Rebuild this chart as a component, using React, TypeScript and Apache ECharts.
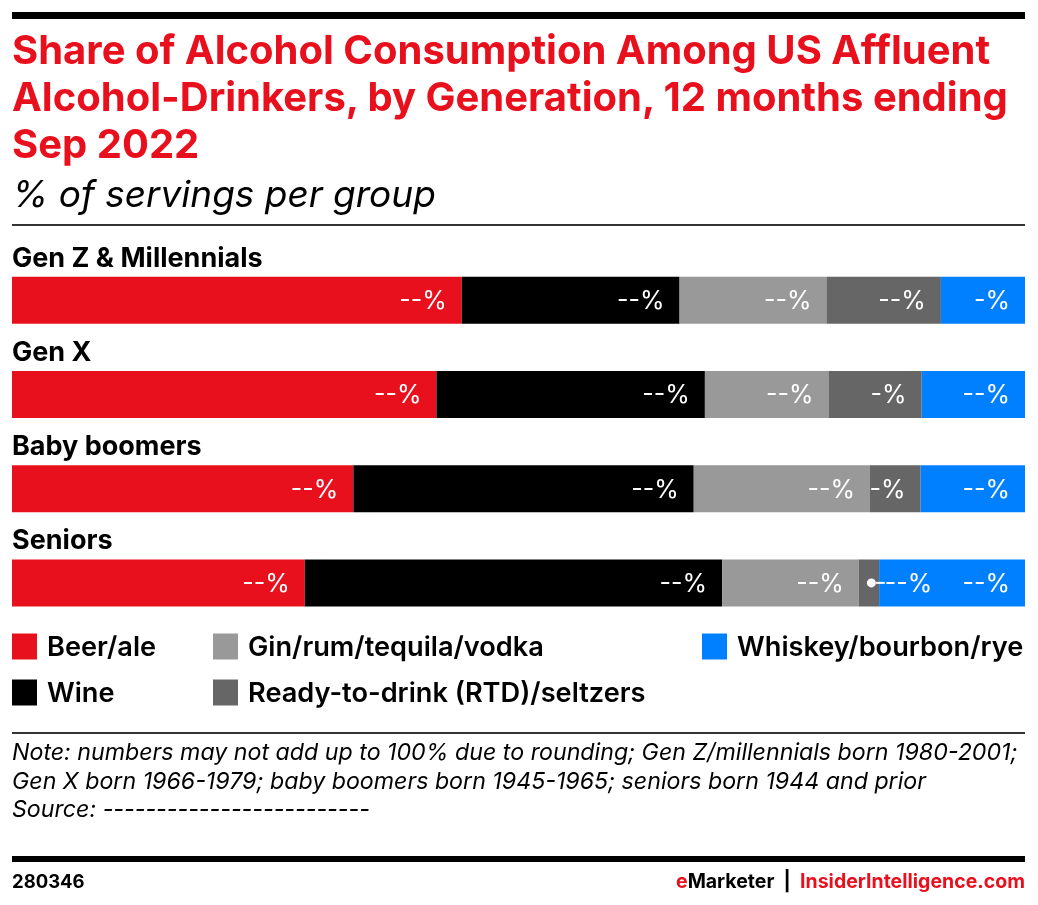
import React, { useEffect, useRef } from "react";
import * as echarts from "echarts";

const categories = ["Gen Z & Millennials", "Gen X", "Baby boomers", "Seniors"];
const seriesNames = [
  "Beer/ale",
  "Wine",
  "Gin/rum/tequila/vodka",
  "Ready-to-drink (RTD)/seltzers",
  "Whiskey/bourbon/rye",
];
const beer = [44.4, 41.9, 33.7, 28.9];
const wine = [21.5, 26.5, 33.6, 41.2];
const gin = [14.5, 12.2, 17.4, 13.5];
const rtd = [11.3, 9.2, 5.0, 2.0];
const whiskey = [8.3, 10.2, 10.3, 14.4];

const beerLabels = ["--%", "--%", "--%", "--%"];
const wineLabels = ["--%", "--%", "--%", "--%"];
const ginLabels = ["--%", "--%", "--%", "--%"];
const rtdLabels = ["--%", "-%", "-%", "--%"];
const whiskeyLabels = ["-%", "--%", "--%", "--%"];

const colors = ["#e9101e", "#000000", "#999999", "#666666", "#0080ff"];

const FONT = "Inter";

const titleText =
  "Share of Alcohol Consumption Among US Affluent\nAlcohol-Drinkers, by Generation, 12 months ending\nSep 2022";
const subtitleText = "% of servings per group";
const noteText =
  "Note: numbers may not add up to 100% due to rounding; Gen Z/millennials born 1980-2001;\nGen X born 1966-1979; baby boomers born 1945-1965; seniors born 1944 and prior\nSource: -------------------------";

export default function App() {
  const ref = useRef<HTMLDivElement>(null);

  useEffect(() => {
    if (!ref.current) return;
    const chart = echarts.init(ref.current, null, { renderer: "svg" });

    const values = [beer, wine, gin, rtd, whiskey];
    const labels = [beerLabels, wineLabels, ginLabels, rtdLabels, whiskeyLabels];

    const series = values.map((vals, si) => ({
      type: "bar",
      name: seriesNames[si],
      stack: "total",
      barWidth: 47,
      itemStyle: { color: colors[si] },
      label: {
        show: true,
        position: "insideRight",
        distance: 15,
        color: "#ffffff",
        fontFamily: FONT,
        fontSize: 25,
        formatter: (p: any) => labels[si][p.dataIndex],
      },
      data: vals.map((v, i) => {
        if (si === 3 && i === 3) {
          return {
            value: v,
            label: {
              show: true,
              position: "insideLeft",
              distance: 8,
              color: "#ffffff",
              fontFamily: FONT,
              fontSize: 25,
              formatter: () => "{d|}{l|}" + labels[si][i],
              rich: {
                d: { width: 9, height: 9, borderRadius: 5, backgroundColor: "#ffffff" },
                l: { width: 9, height: 2, backgroundColor: "#ffffff" },
              },
            },
          };
        }
        return v;
      }),
    }));

    const legendCommon = {
      orient: "vertical",
      top: 633,
      itemWidth: 25,
      itemHeight: 26,
      itemGap: 19,
      icon: "rect",
      selectedMode: false,
      padding: 0,
      textStyle: {
        fontFamily: FONT,
        fontSize: 27.2,
        fontWeight: 600,
        color: "#000",
        padding: [0, 0, 0, 5],
      },
    };

    chart.setOption({
      animation: false,
      color: colors,
      title: [
        {
          text: titleText,
          left: 12,
          top: 26,
          padding: 0,
          textStyle: {
            fontFamily: FONT,
            fontSize: 40,
            fontWeight: 700,
            color: "#e9101e",
            lineHeight: 47,
          },
        },
        {
          text: subtitleText,
          left: 12,
          top: 175,
          padding: 0,
          textStyle: {
            fontFamily: FONT,
            fontSize: 37,
            fontWeight: 400,
            fontStyle: "italic",
            color: "#000",
            lineHeight: 36,
          },
        },
        {
          text: noteText,
          left: 12,
          top: 738,
          padding: 0,
          textStyle: {
            fontFamily: FONT,
            fontSize: 23.2,
            fontWeight: 400,
            fontStyle: "italic",
            color: "#000",
            lineHeight: 28.5,
          },
        },
        {
          text: "280346",
          left: 12,
          top: 871,
          padding: 0,
          textStyle: {
            fontFamily: FONT,
            fontSize: 18.5,
            fontWeight: 700,
            color: "#000",
            lineHeight: 20,
          },
        },
        {
          text: "{r|e}{b|Marketer  |  }{r|InsiderIntelligence.com}",
          right: 13,
          top: 871,
          padding: 0,
          textStyle: {
            fontFamily: FONT,
            fontSize: 19.5,
            fontWeight: 700,
            lineHeight: 20,
            rich: {
              r: { color: "#e9101e", fontFamily: FONT, fontSize: 19.5, fontWeight: 700 },
              b: { color: "#000", fontFamily: FONT, fontSize: 19.5, fontWeight: 700 },
            },
          },
        },
      ],
      legend: [
        { ...legendCommon, left: 12, data: [seriesNames[0], seriesNames[1]] },
        { ...legendCommon, left: 213, data: [seriesNames[2], seriesNames[3]] },
        { ...legendCommon, left: 702, data: [seriesNames[4]] },
      ],
      grid: { left: 12, right: 13, top: 253, height: 377 },
      xAxis: {
        type: "value",
        min: 0,
        max: 100,
        show: false,
      },
      yAxis: {
        type: "category",
        data: categories,
        inverse: true,
        axisLine: { show: false },
        axisTick: { show: false },
        splitLine: { show: false },
        axisLabel: {
          inside: true,
          margin: 0,
          align: "left",
          verticalAlign: "bottom",
          padding: [0, 0, 28, 0],
          fontFamily: FONT,
          fontSize: 27,
          fontWeight: 700,
          color: "#000",
          lineHeight: 30,
        },
      },
      graphic: [
        { type: "rect", shape: { x: 12, y: 12, width: 1013, height: 7 }, style: { fill: "#000" } },
        { type: "rect", shape: { x: 12, y: 224, width: 1013, height: 2 }, style: { fill: "#333" } },
        { type: "rect", shape: { x: 12, y: 732, width: 1013, height: 2 }, style: { fill: "#333" } },
        { type: "rect", shape: { x: 12, y: 856, width: 1013, height: 6 }, style: { fill: "#000" } },
      ],
      series,
    });

    return () => chart.dispose();
  }, []);

  return (
    <div
      ref={ref}
      style={{ position: "fixed", left: 0, top: 0, width: 1038, height: 905 }}
    />
  );
}
